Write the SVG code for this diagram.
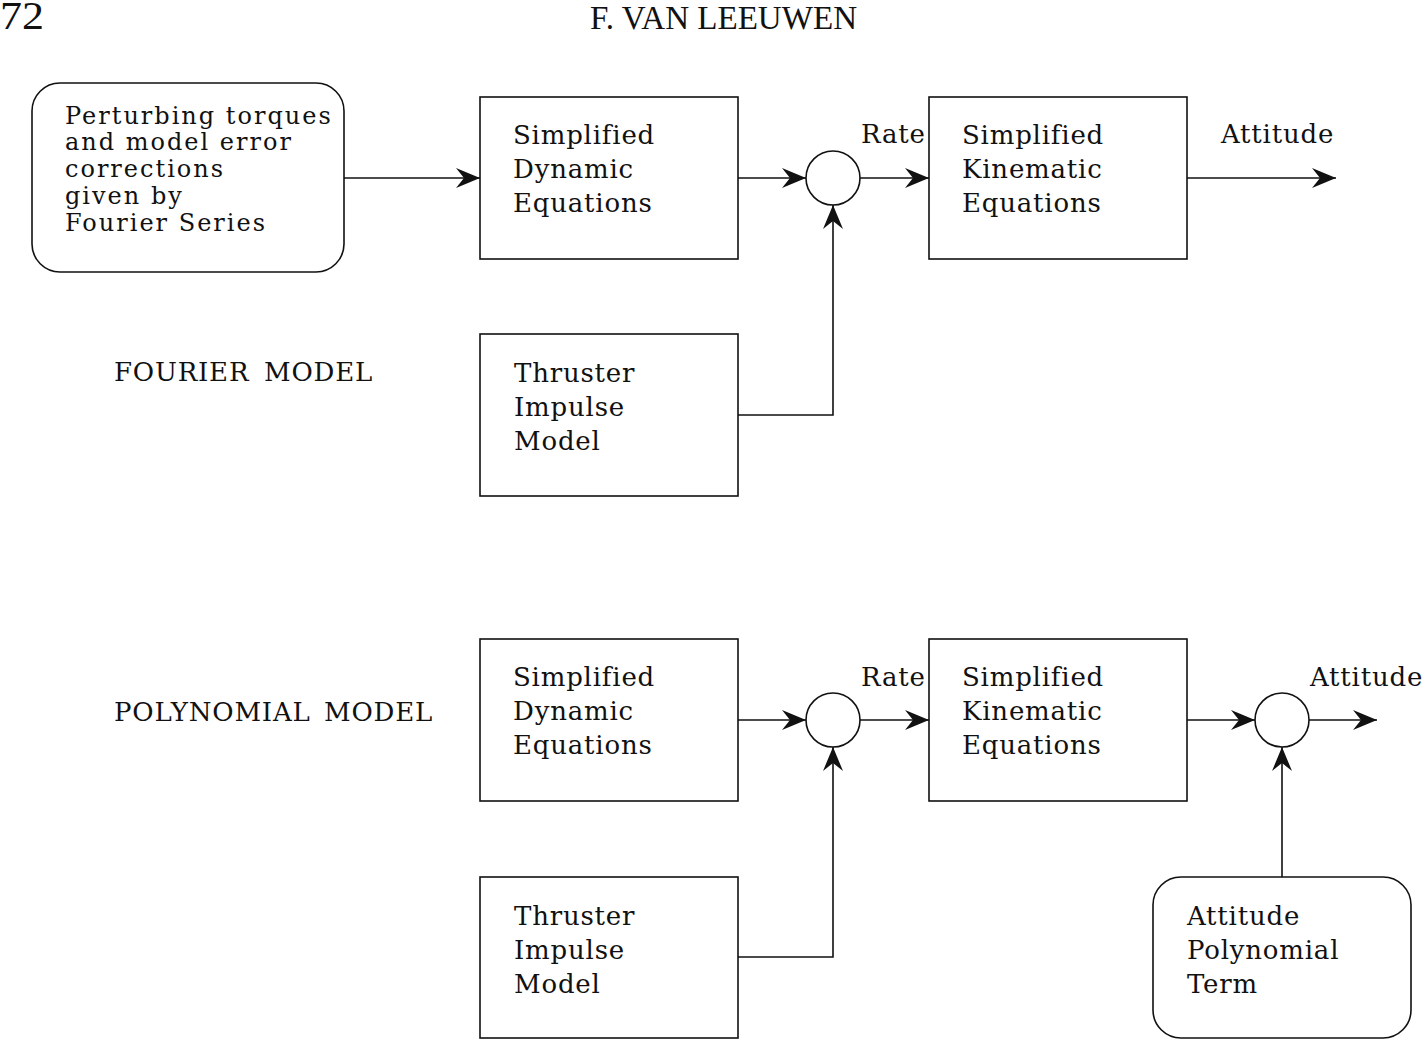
<svg xmlns="http://www.w3.org/2000/svg" width="1428" height="1051" viewBox="0 0 1428 1051">
<style>
.box{fill:none;stroke:#111;stroke-width:1.6}
.ln{fill:none;stroke:#111;stroke-width:1.6}
.t{font-family:"DejaVu Serif",serif;font-size:26px;letter-spacing:0.8px;fill:#111}
.s{font-family:"DejaVu Serif",serif;font-size:24px;letter-spacing:2px;fill:#111}
.hd{font-family:"Liberation Serif",serif;fill:#111}
</style>
<defs>
<marker id="ah" markerUnits="userSpaceOnUse" markerWidth="26" markerHeight="24" viewBox="-24 -12 26 24" refX="0" refY="0" orient="auto">
<path d="M0,0 L-24,-10 L-16,0 L-24,10 Z" fill="#111"/>
</marker>
</defs>
<rect width="1428" height="1051" fill="#fff"/>
<text class="hd" x="0" y="29" font-size="41" textLength="44" lengthAdjust="spacingAndGlyphs">72</text>
<text class="hd" x="590" y="29" font-size="34" textLength="267" lengthAdjust="spacingAndGlyphs">F. VAN LEEUWEN</text>

<g id="fourier-label"><text class="t" x="114" y="381">FOURIER</text><text class="t" x="264" y="381">MODEL</text></g>
<g id="poly-label"><text class="t" x="114" y="721">POLYNOMIAL</text><text class="t" x="324" y="721">MODEL</text></g>

<g id="perturbing">
<rect class="box" x="32" y="83" width="312" height="189" rx="28"/>
<text class="s" x="65" y="124">Perturbing torques</text>
<text class="s" x="65" y="150">and model error</text>
<text class="s" x="65" y="177">corrections</text>
<text class="s" x="65" y="204">given by</text>
<text class="s" x="65" y="231">Fourier Series</text>
</g>
<g id="sde1">
<rect class="box" x="480" y="97" width="258" height="162"/>
<text class="t" x="513" y="144">Simplified</text>
<text class="t" x="513" y="178">Dynamic</text>
<text class="t" x="513" y="212">Equations</text>
</g>
<g id="sum1"><circle class="box" cx="833" cy="178" r="27"/></g>
<g id="ske1">
<rect class="box" x="929" y="97" width="258" height="162"/>
<text class="t" x="962" y="144">Simplified</text>
<text class="t" x="962" y="178">Kinematic</text>
<text class="t" x="962" y="212">Equations</text>
</g>
<g id="thr1">
<rect class="box" x="480" y="334" width="258" height="162"/>
<text class="t" x="514" y="382">Thruster</text>
<text class="t" x="514" y="416">Impulse</text>
<text class="t" x="514" y="450">Model</text>
</g>
<g id="rate1"><text class="t" x="861" y="143">Rate</text></g>
<g id="att1"><text class="t" x="1221" y="143">Attitude</text></g>

<g id="sde2">
<rect class="box" x="480" y="639" width="258" height="162"/>
<text class="t" x="513" y="686">Simplified</text>
<text class="t" x="513" y="720">Dynamic</text>
<text class="t" x="513" y="754">Equations</text>
</g>
<g id="sum2"><circle class="box" cx="833" cy="720" r="27"/></g>
<g id="ske2">
<rect class="box" x="929" y="639" width="258" height="162"/>
<text class="t" x="962" y="686">Simplified</text>
<text class="t" x="962" y="720">Kinematic</text>
<text class="t" x="962" y="754">Equations</text>
</g>
<g id="sum3"><circle class="box" cx="1282" cy="720" r="27"/></g>
<g id="thr2">
<rect class="box" x="480" y="877" width="258" height="161"/>
<text class="t" x="514" y="925">Thruster</text>
<text class="t" x="514" y="959">Impulse</text>
<text class="t" x="514" y="993">Model</text>
</g>
<g id="apt">
<rect class="box" x="1153" y="877" width="258" height="161" rx="28"/>
<text class="t" x="1187" y="925">Attitude</text>
<text class="t" x="1187" y="959">Polynomial</text>
<text class="t" x="1187" y="993">Term</text>
</g>
<g id="rate2"><text class="t" x="861" y="686">Rate</text></g>
<g id="att2"><text class="t" x="1310" y="686">Attitude</text></g>

<g id="connectors" class="ln">
<path d="M344,178 H480" marker-end="url(#ah)"/>
<path d="M738,178 H806" marker-end="url(#ah)"/>
<path d="M860,178 H929" marker-end="url(#ah)"/>
<path d="M1187,178 H1336" marker-end="url(#ah)"/>
<path d="M738,415 H833 V205" marker-end="url(#ah)"/>
<path d="M738,720 H806" marker-end="url(#ah)"/>
<path d="M860,720 H929" marker-end="url(#ah)"/>
<path d="M1187,720 H1255" marker-end="url(#ah)"/>
<path d="M1309,720 H1377" marker-end="url(#ah)"/>
<path d="M738,957 H833 V747" marker-end="url(#ah)"/>
<path d="M1282,877 V747" marker-end="url(#ah)"/>
</g>
</svg>
